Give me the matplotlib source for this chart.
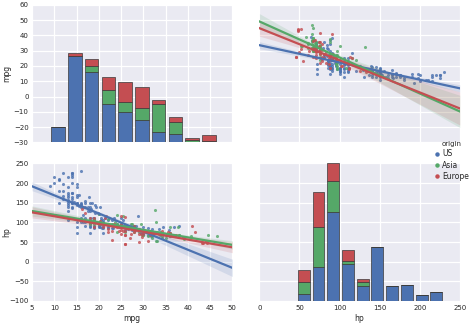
# Пары признаков mpg / hp по происхождению автомобиля
import numpy as np
import matplotlib.pyplot as plt
from matplotlib.lines import Line2D

origins = ["US", "Asia", "Europe"]
colors = ["#4C72B0", "#55A868", "#C44E52"]

# точки (mpg, hp) по группам
mpg_us = [18, 15, 18, 16, 17, 15, 14, 14, 14, 15,
          15, 14, 15, 14, 22, 18, 21, 21, 10, 10,
          11, 9, 28, 19, 16, 17, 19, 18, 14, 14,
          14, 14, 12, 13, 13, 18, 19, 18, 23, 13,
          14, 15, 17, 11, 13, 12, 13, 13, 13, 14,
          22, 13, 14, 12, 13, 13, 13, 12, 18, 16,
          18, 11, 12, 20, 21, 22, 18, 19, 21, 15,
          16, 20, 19, 20, 11, 20, 21, 15, 26, 16,
          16, 14, 19, 18, 15, 16, 16, 13, 17, 15.5,
          14.5, 16.5, 17.5, 16.5, 20.5, 19.2, 18.5, 18.2, 17.7, 19.4,
          20.2, 19.2, 20.6, 20.8, 18.6, 18.1, 15.5, 16.9, 19.9, 20.2,
          22.1, 20.5, 23.9, 23.2, 26.6, 25.4, 23.5, 27.4, 30.0, 33.5,
          34.2, 34.5, 29.5, 28.0, 27.0, 26.0, 36.1, 39.0, 34.4, 26.4,
          24.5, 22.4, 28.4, 28.8, 25.0, 23.0, 31.0, 37.0, 38.0, 27.0,
          32.0, 25.5, 24.0, 21.5, 17.0, 15.0, 19.0, 22.0, 17.6, 14.0,
          32.1, 31.5, 35.7, 36.0]
hp_us = [130, 165, 150, 150, 140, 198, 220, 215, 225, 190,
         170, 160, 150, 225, 95, 97, 85, 90, 215, 200,
         210, 193, 90, 100, 105, 100, 88, 100, 165, 175,
         153, 150, 180, 170, 175, 110, 100, 88, 86, 165,
         175, 150, 150, 208, 155, 160, 190, 130, 140, 150,
         86, 145, 137, 198, 150, 158, 215, 225, 105, 100,
         100, 150, 167, 88, 72, 94, 90, 85, 107, 145,
         230, 91, 112, 122, 180, 95, 100, 88, 80, 110,
         140, 140, 105, 72, 72, 145, 148, 105, 90, 170,
         152, 120, 140, 100, 95, 125, 150, 135, 165, 140,
         139, 145, 105, 85, 110, 139, 142, 155, 125, 88,
         105, 110, 90, 85, 84, 105, 110, 80, 88, 84,
         70, 70, 72, 80, 88, 92, 66, 64, 88, 88,
         88, 110, 90, 115, 110, 105, 85, 88, 90, 86,
         84, 90, 92, 110, 110, 100, 90, 88, 129, 200,
         70, 79, 80, 70]

mpg_asia = [19, 20, 18, 20, 19, 24, 24, 22, 24, 21.5,
            22, 23.7, 21.1, 23, 24, 22, 27, 25, 27, 26,
            27.5, 25.4, 24.2, 27.2, 26, 31, 28, 29, 31, 30,
            31.5, 30, 28, 29.8, 31.3, 29.5, 35, 32, 32, 33,
            32, 33.5, 32.8, 32.2, 32.7, 32.9, 32.4, 34, 34.1, 31.6,
            35.1, 33, 33.8, 32, 31.8, 34.1, 33.7, 36.1, 37.2, 37,
            38, 36, 38.1, 36, 35.5, 37.7, 39.1, 40.8, 44.6, 46.6]
hp_asia = [97, 97, 97, 122, 108, 95, 97, 95, 90, 96,
           97, 100, 95, 97, 75, 108, 88, 95, 88, 93,
           95, 116, 120, 97, 75, 65, 92, 75, 67, 67,
           68, 68, 75, 67, 75, 97, 69, 61, 65, 53,
           70, 70, 52, 75, 132, 100, 72, 70, 65, 75,
           60, 75, 67, 67, 65, 61, 75, 65, 65, 68,
           67, 88, 67, 74, 70, 88, 58, 65, 67, 65]

mpg_europe = [16.2, 16.5, 18, 17, 19, 20, 19, 24, 21, 22,
              23, 20.3, 21.6, 23, 24, 22, 21.5, 23.5, 26, 25,
              25, 26, 26, 26, 25, 26, 26, 25, 24.5, 25.4,
              27.2, 25, 26.5, 27, 30, 29, 29, 28, 29, 30.5,
              29.8, 30.7, 29.5, 31.5, 28.1, 30, 28, 31, 31.9, 34.3,
              33, 32, 36.4, 37.3, 36, 35.5, 41.5, 40.9, 43.1, 44.3,
              43.4, 44]
hp_europe = [133, 138, 112, 125, 112, 102, 88, 90, 87, 76,
             54, 103, 115, 78, 88, 83, 110, 95, 46, 87,
             95, 113, 46, 69, 80, 67, 78, 71, 78, 77,
             71, 115, 88, 60, 70, 49, 83, 75, 70, 78,
             62, 76, 71, 68, 80, 74, 90, 52, 71, 78,
             74, 71, 67, 69, 74, 76, 76, 90, 48, 48,
             48, 52]

# стековые гистограммы на диагонали (число машин в каждом из 10 интервалов)
mpg_counts = {"US": [13, 75, 61, 33, 26, 19, 9, 7, 0, 0],
              "Asia": [0, 0, 5, 12, 9, 11, 24, 11, 2, 1],
              "Europe": [0, 2, 6, 12, 17, 18, 4, 4, 2, 5]}
hp_counts = {"US": [6, 29, 77, 32, 13, 47, 13, 14, 5, 8],
             "Asia": [10, 35, 27, 3, 3, 0, 0, 0, 0, 0],
             "Europe": [11, 30, 15, 9, 3, 0, 0, 0, 0, 0]}
mpg_range = (9.0, 46.6)
hp_range = (46.0, 230.0)

mpg = {"US": mpg_us, "Asia": mpg_asia, "Europe": mpg_europe}
hp = {"US": hp_us, "Asia": hp_asia, "Europe": hp_europe}

plt.rcParams.update({
    "axes.facecolor": "#EAEAF2",
    "axes.edgecolor": "white",
    "axes.grid": True,
    "grid.color": "white",
    "grid.linewidth": 0.9,
    "axes.axisbelow": True,
    "xtick.major.size": 0,
    "ytick.major.size": 0,
    "xtick.major.pad": 3,
    "ytick.major.pad": 2.5,
    "font.size": 5,
    "text.color": ".15",
    "axes.labelcolor": ".15",
    "xtick.color": ".15",
    "ytick.color": ".15",
})

fig, axes = plt.subplots(2, 2, figsize=(4.74, 3.25), dpi=100,
                         sharex="col", sharey="row")
fig.subplots_adjust(left=0.0675, right=0.970, bottom=0.074, top=0.985,
                    wspace=0.135, hspace=0.153)
for ax in axes.flat:
    for s in ax.spines.values():
        s.set_visible(False)

lims = {"mpg": (5, 50), "hp": (0, 250)}
ylims = {"mpg": (-30, 60), "hp": (-100, 250)}
data = {"mpg": mpg, "hp": hp}


def reg(ax, xv, yv, xlim, color):
    x = np.asarray(xv, float)
    y = np.asarray(yv, float)
    ax.scatter(x, y, s=5, color=color, alpha=0.8, linewidths=0, zorder=2)
    b, a = np.polyfit(x, y, 1)
    grid = np.linspace(xlim[0], xlim[1], 100)
    yhat = a + b * grid
    n = len(x)
    resid = y - (a + b * x)
    s = np.sqrt(np.sum(resid ** 2) / (n - 2))
    se = s * np.sqrt(1 / n + (grid - x.mean()) ** 2 / np.sum((x - x.mean()) ** 2))
    ax.fill_between(grid, yhat - 1.97 * se, yhat + 1.97 * se, color=color,
                    alpha=0.15, linewidth=0, zorder=3)
    ax.plot(grid, yhat, color=color, lw=1.6, zorder=4)


# вне диагонали: регрессии
for (r, c, xn, yn) in [(0, 1, "hp", "mpg"), (1, 0, "mpg", "hp")]:
    ax = axes[r, c]
    for o, col in zip(origins, colors):
        reg(ax, data[xn][o], data[yn][o], lims[xn], col)

# диагональ: гистограммы на двойной оси
diag_max = max(np.sum([hp_counts[o] for o in origins], axis=0))
for i, (name, counts, rng) in enumerate([("mpg", mpg_counts, mpg_range),
                                         ("hp", hp_counts, hp_range)]):
    tw = axes[i, i].twinx()
    edges = np.linspace(rng[0], rng[1], 11)
    centers = (edges[:-1] + edges[1:]) / 2
    width = (edges[1] - edges[0]) * 0.8
    bottom = np.zeros(10)
    for o, col in zip(origins, colors):
        tw.bar(centers, counts[o], width=width, bottom=bottom, color=col,
               edgecolor="#3a3a3a", linewidth=0.5)
        bottom = bottom + np.array(counts[o])
    tw.set_ylim(0, diag_max)
    tw.axis("off")

axes[0, 0].set_xlim(*lims["mpg"])
axes[0, 1].set_xlim(*lims["hp"])
axes[0, 0].set_ylim(*ylims["mpg"])
axes[1, 0].set_ylim(*ylims["hp"])
axes[1, 0].set_xticks(np.arange(5, 51, 5))
axes[1, 1].set_xticks(np.arange(0, 251, 50))
axes[0, 0].set_yticks(np.arange(-30, 61, 10))
axes[1, 0].set_yticks(np.arange(-100, 251, 50))
axes[0, 0].set_ylabel("mpg", fontsize=5.5)
axes[1, 0].set_ylabel("hp", fontsize=5.5)
axes[0, 0].yaxis.set_label_coords(-0.105, 0.5)
axes[1, 0].yaxis.set_label_coords(-0.105, 0.5)
axes[1, 0].set_xlabel("mpg", labelpad=2, fontsize=5.5)
axes[1, 1].set_xlabel("hp", labelpad=2, fontsize=5.5)

handles = [Line2D([], [], marker="o", ls="", color=c, markersize=2.2)
           for c in colors]
fig.legend(handles, origins, title="origin", loc="center",
           bbox_to_anchor=(0.952, 0.505), frameon=False, fontsize=5.5,
           title_fontsize=5, handletextpad=0.2, labelspacing=0.3,
           handlelength=1.0, borderpad=0)

fig.savefig("out.png", dpi=100)
